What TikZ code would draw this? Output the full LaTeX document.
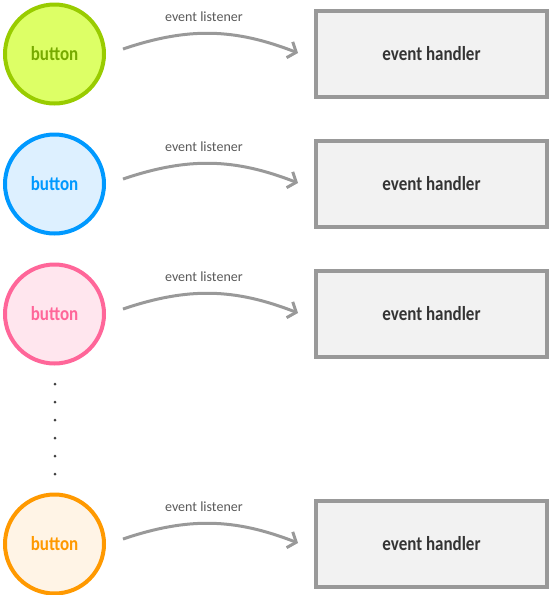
\documentclass[tikz,border=0pt]{standalone}
\usepackage{fontspec}
\setmainfont{Carlito}
\newfontfamily\narrowfont{Carlito}[FakeStretch=0.85]
\usepackage{tikz}
\usetikzlibrary{arrows.meta}

\definecolor{grn}{HTML}{99CC00}
\definecolor{grnfill}{HTML}{DDFF66}
\definecolor{grntext}{HTML}{77AA00}
\definecolor{blu}{HTML}{0099FF}
\definecolor{blufill}{HTML}{DDF0FF}
\definecolor{pnk}{HTML}{FF6699}
\definecolor{pnkfill}{HTML}{FFE6EE}
\definecolor{org}{HTML}{FF9900}
\definecolor{orgfill}{HTML}{FFF4E6}
\definecolor{gry}{HTML}{999999}

\tikzset{
  btn/.style={circle,line width=4pt,minimum size=99pt,inner sep=0pt,font=\narrowfont\bfseries\fontsize{20}{22}\selectfont},
  handler/.style={draw=gry,fill=gray!10,line width=4pt,minimum width=231pt,minimum height=86pt,text=black!80,font=\narrowfont\bfseries\fontsize{20}{22}\selectfont},
  listen/.style={draw=gry,line width=3pt,-{Straight Barb[length=7pt,width=17pt]}},
  lbl/.style={text=black!65,font=\fontsize{14}{16}\selectfont}
}

\begin{document}
\begin{tikzpicture}[x=1pt,y=-1pt]
	\useasboundingbox (0,0) rectangle (550,595);
	\node[btn,draw=grn,fill=grnfill,text=grntext](b1) at (54.5,54) {button};
	\node[btn,draw=blu,fill=blufill,text=blu](b2) at (54.5,184) {button};
	\node[btn,draw=pnk,fill=pnkfill,text=pnk](b3) at (54.5,314) {button};
	\node[btn,draw=org,fill=orgfill,text=org](b4) at (54.5,544) {button};
	\node[handler](h1) at (431.5,54) {event handler};
	\node[handler](h2) at (431.5,184) {event handler};
	\node[handler](h3) at (431.5,314) {event handler};
	\node[handler](h4) at (431.5,544) {event handler};
	\draw [listen] ([xshift=17pt,yshift=5pt]b1.east) to[bend left=20] node[midway,above=7pt,xshift=-7pt,lbl]{event listener} ([xshift=-16pt,yshift=1pt]h1.west);
	\draw [listen] ([xshift=17pt,yshift=5pt]b2.east) to[bend left=20] node[midway,above=7pt,xshift=-7pt,lbl]{event listener} ([xshift=-16pt,yshift=1pt]h2.west);
	\draw [listen] ([xshift=17pt,yshift=5pt]b3.east) to[bend left=20] node[midway,above=7pt,xshift=-7pt,lbl]{event listener} ([xshift=-16pt,yshift=1pt]h3.west);
	\draw [listen] ([xshift=17pt,yshift=5pt]b4.east) to[bend left=20] node[midway,above=7pt,xshift=-7pt,lbl]{event listener} ([xshift=-16pt,yshift=1pt]h4.west);
	% dots between the rows
	\foreach \y in {384,402,...,474}
	  \fill[black!75] (55,\y) circle (1.5pt);
\end{tikzpicture}
\end{document}
